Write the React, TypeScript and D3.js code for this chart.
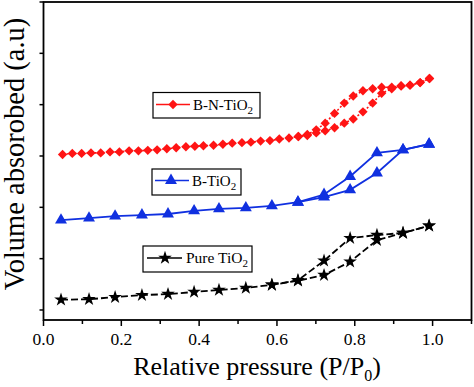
import { useEffect } from 'react';
import { scaleLinear, line, symbol, symbolSquare, symbolTriangle, symbolStar } from 'd3';

// B-N-TiO2 (red diamonds)
const bntX = [0.049, 0.074, 0.098, 0.122, 0.147, 0.171, 0.195, 0.22, 0.244, 0.268, 0.292, 0.317, 0.341, 0.366, 0.389, 0.411, 0.437, 0.461, 0.485, 0.51, 0.533, 0.558, 0.582, 0.606, 0.631, 0.655, 0.678, 0.701, 0.724, 0.748, 0.773, 0.796, 0.821, 0.846, 0.869, 0.895, 0.919, 0.942, 0.968, 0.992];
const bntAds = [3.03, 3.05, 3.05, 3.06, 3.06, 3.08, 3.08, 3.1, 3.1, 3.11, 3.12, 3.14, 3.16, 3.18, 3.19, 3.2, 3.21, 3.23, 3.25, 3.26, 3.27, 3.29, 3.3, 3.33, 3.35, 3.38, 3.4, 3.45, 3.49, 3.55, 3.64, 3.72, 3.86, 4.03, 4.22, 4.31, 4.36, 4.38, 4.43, 4.51];
const bntDesX = [0.655, 0.678, 0.701, 0.724, 0.748, 0.773, 0.796, 0.821, 0.846, 0.869, 0.895, 0.919, 0.942, 0.968, 0.992];
const bntDes = [3.38, 3.42, 3.51, 3.64, 3.83, 4.03, 4.17, 4.27, 4.31, 4.34, 4.34, 4.37, 4.38, 4.43, 4.51];

// B-TiO2 (blue triangles)
const bX = [0.045, 0.117, 0.184, 0.253, 0.32, 0.387, 0.451, 0.52, 0.587, 0.654, 0.721, 0.788, 0.857, 0.924, 0.991];
const bAds = [1.75, 1.79, 1.83, 1.85, 1.87, 1.93, 1.97, 1.99, 2.03, 2.1, 2.2, 2.34, 2.67, 3.12, 3.23];
const bDesX = [0.654, 0.721, 0.788, 0.857, 0.924, 0.991];
const bDes = [2.1, 2.25, 2.6, 3.06, 3.12, 3.23];

// Pure TiO2 (black stars)
const pX = [0.045, 0.117, 0.184, 0.253, 0.32, 0.387, 0.451, 0.52, 0.587, 0.654, 0.721, 0.788, 0.857, 0.924, 0.991];
const pAds = [0.2, 0.21, 0.25, 0.29, 0.31, 0.35, 0.39, 0.43, 0.49, 0.57, 0.68, 0.94, 1.36, 1.5, 1.64];
const pDesX = [0.587, 0.654, 0.721, 0.788, 0.857, 0.924, 0.991];
const pDes = [0.49, 0.58, 0.96, 1.4, 1.46, 1.5, 1.64];

const xMajor = [0, 0.2, 0.4, 0.6, 0.8, 1.0];
const xMinor = [0.1, 0.3, 0.5, 0.7, 0.9, 1.1];
const yTicks = [0, 1, 2, 3, 4, 5, 6];

const FONT = "'Liberation Serif', 'Times New Roman', serif";

function App() {
    useEffect(() => {
        document.body.style.margin = '0';
    }, []);

    // Set dimensions
    const width = 474;
    const height = 387;
    const left = 43.5;
    const right = 471.5;
    const top = 2;
    const bottom = 320;

    // Set scales
    const x = scaleLinear().domain([0, 1.1]).range([left, right]);
    const y = scaleLinear().domain([-0.195, 6]).range([bottom, top]);

    const path = (xs: number[], ys: number[]) =>
        line<number>()
            .x((d, i) => x(xs[i]))
            .y((d) => y(d))(ys) as string;

    const diamond = symbol().type(symbolSquare).size(44)() as string;
    const triangle = symbol().type(symbolTriangle).size(62)() as string;
    const star = symbol().type(symbolStar).size(58)() as string;

    const red = '#ff1414';
    const blue = '#1030e0';

    return (
        <svg width={width} height={height} fontFamily={FONT} style={{ display: 'block', background: '#fff' }}>
            {/* Lines */}
            <path d={path(bntX, bntAds)} fill="none" stroke={red} strokeWidth={1.6} strokeDasharray="2,2" />
            <path d={path(bntDesX, bntDes)} fill="none" stroke={red} strokeWidth={1.6} strokeDasharray="2,2" />
            <path d={path(bX, bAds)} fill="none" stroke={blue} strokeWidth={1.8} />
            <path d={path(bDesX, bDes)} fill="none" stroke={blue} strokeWidth={1.8} />
            <path d={path(pX, pAds)} fill="none" stroke="#000" strokeWidth={1.8} strokeDasharray="7,3" />
            <path d={path(pDesX, pDes)} fill="none" stroke="#000" strokeWidth={1.8} strokeDasharray="7,3" />

            {/* Markers */}
            {bntAds.map((d, i) => (
                <path key={'ra' + i} d={diamond} fill={red} transform={`translate(${x(bntX[i])},${y(d)}) rotate(45)`} />
            ))}
            {bntDes.map((d, i) => (
                <path key={'rd' + i} d={diamond} fill={red} transform={`translate(${x(bntDesX[i])},${y(d)}) rotate(45)`} />
            ))}
            {bAds.map((d, i) => (
                <path key={'ba' + i} d={triangle} fill={blue} transform={`translate(${x(bX[i])},${y(d)})`} />
            ))}
            {bDes.map((d, i) => (
                <path key={'bd' + i} d={triangle} fill={blue} transform={`translate(${x(bDesX[i])},${y(d)})`} />
            ))}
            {pAds.map((d, i) => (
                <path key={'pa' + i} d={star} fill="#000" transform={`translate(${x(pX[i])},${y(d)})`} />
            ))}
            {pDes.map((d, i) => (
                <path key={'pd' + i} d={star} fill="#000" transform={`translate(${x(pDesX[i])},${y(d)})`} />
            ))}

            {/* Frame */}
            <rect x={left} y={top} width={right - left} height={bottom - top} fill="none" stroke="#000" strokeWidth={1.8} />

            {/* X axis ticks */}
            {xMajor.map((t) => (
                <g key={'xm' + t}>
                    <line x1={x(t)} x2={x(t)} y1={bottom} y2={bottom + 6} stroke="#000" strokeWidth={1.5} />
                    <text x={x(t)} y={345} fontSize={17.5} textAnchor="middle">{t.toFixed(1)}</text>
                </g>
            ))}
            {xMinor.map((t) => (
                <line key={'xn' + t} x1={x(t)} x2={x(t)} y1={bottom} y2={bottom + 4} stroke="#000" strokeWidth={1.5} />
            ))}
            {/* Y axis ticks */}
            {yTicks.map((t) => (
                <line key={'y' + t} x1={left - 4} x2={left} y1={y(t)} y2={y(t)} stroke="#000" strokeWidth={1.5} />
            ))}

            {/* Axis titles */}
            <text x={257} y={375} fontSize={26} textAnchor="middle">
                Relative pressure (P/P<tspan dy={6} fontSize={16}>0</tspan><tspan dy={-6}>)</tspan>
            </text>
            <text transform="translate(24,154) rotate(-90)" fontSize={28.5} textAnchor="middle">
                Volume absorobed (a.u)
            </text>

            {/* Legends */}
            <g>
                <rect x={153} y={92.5} width={107} height={25.5} fill="#fff" stroke="#000" strokeWidth={1.2} />
                <line x1={156} x2={190} y1={104.5} y2={104.5} stroke={red} strokeWidth={1.6} />
                <path d={diamond} fill={red} transform="translate(173,104.5) rotate(45)" />
                <text x={193} y={109.5} fontSize={15}>B-N-TiO<tspan dy={4} fontSize={11}>2</tspan></text>
            </g>
            <g>
                <rect x={152} y={169} width={89} height={26} fill="#fff" stroke="#000" strokeWidth={1.2} />
                <line x1={155} x2={189} y1={180.5} y2={180.5} stroke={blue} strokeWidth={1.6} />
                <path d={triangle} fill={blue} transform="translate(171,180.5)" />
                <text x={192} y={186} fontSize={15}>B-TiO<tspan dy={4} fontSize={11}>2</tspan></text>
            </g>
            <g>
                <rect x={143} y={246} width={109} height={26} fill="#fff" stroke="#000" strokeWidth={1.2} />
                <line x1={147} x2={182} y1={258} y2={258} stroke="#000" strokeWidth={1.6} />
                <path d={star} fill="#000" transform="translate(165,258)" />
                <text x={186} y={263} fontSize={15.5}>Pure TiO<tspan dy={4} fontSize={11}>2</tspan></text>
            </g>
        </svg>
    );
}

export default App;
